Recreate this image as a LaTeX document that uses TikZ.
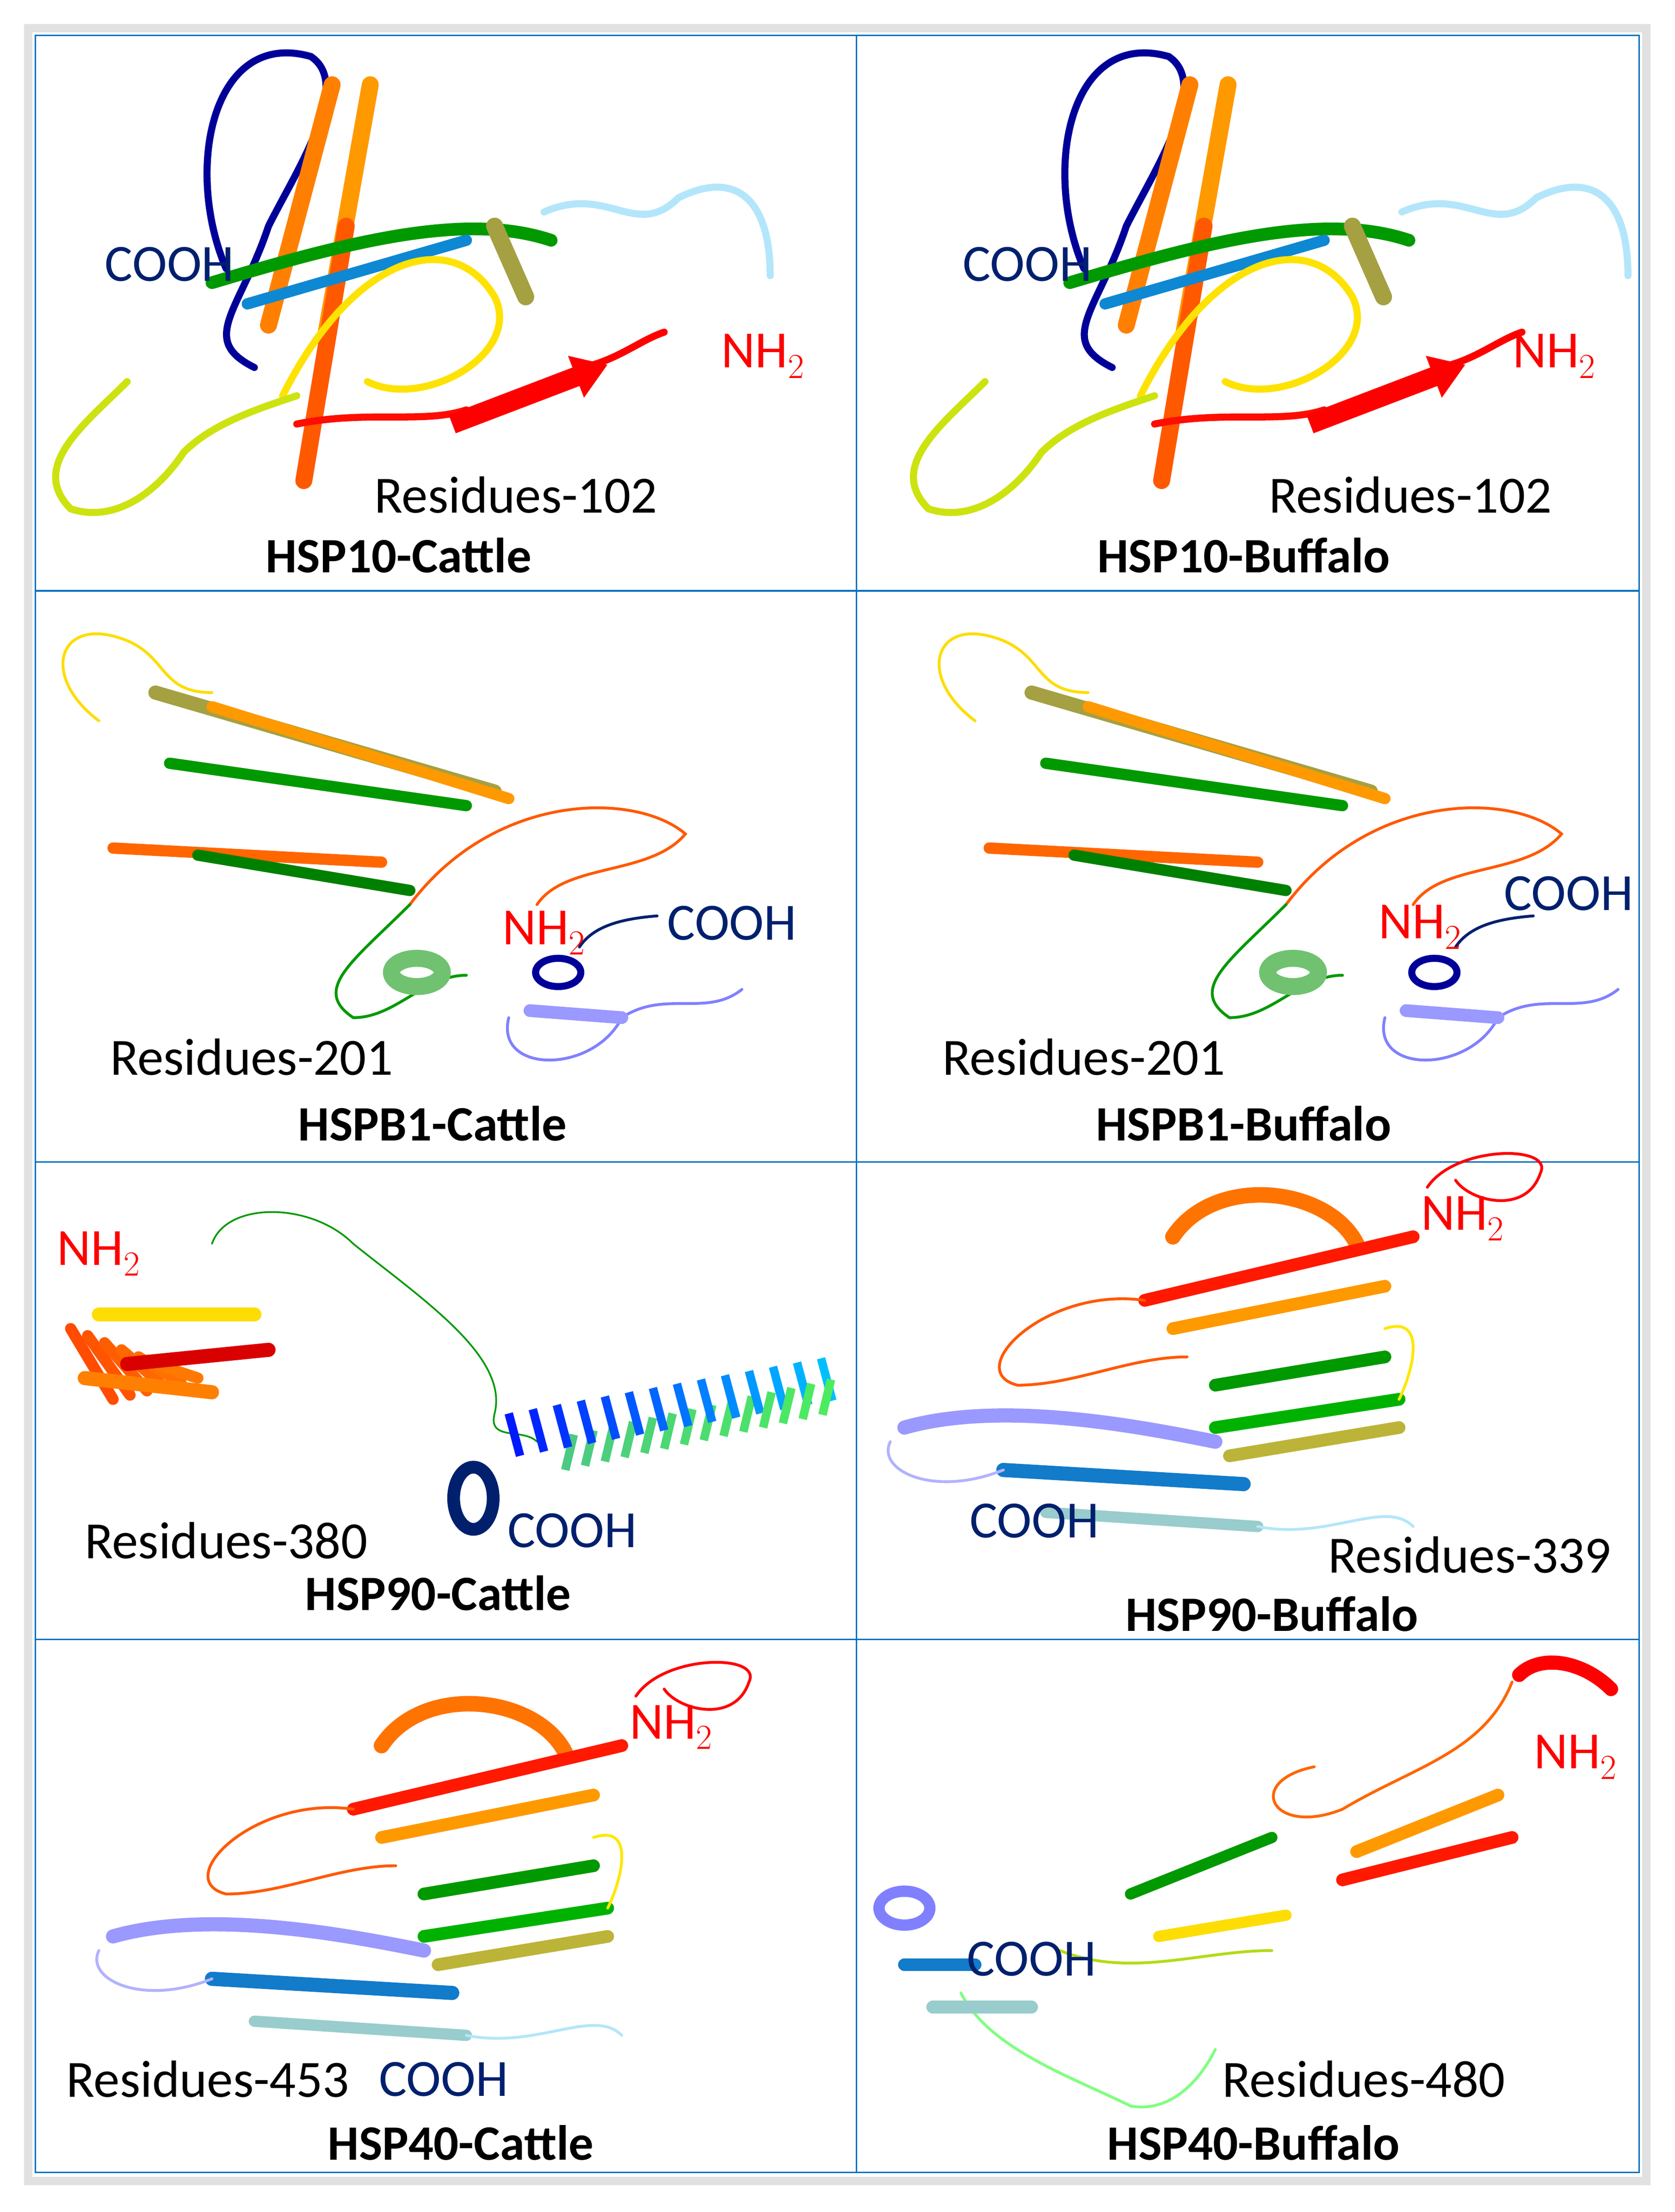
\documentclass[tikz,border=0pt]{standalone}
\usepackage{fontspec}
\setmainfont{Carlito}
\usetikzlibrary{arrows.meta}
\definecolor{navy}{RGB}{0,32,110}
\definecolor{gridb}{RGB}{0,112,192}
\definecolor{borderg}{RGB}{225,225,225}
\begin{document}
\begin{tikzpicture}[x=1pt,y=-1pt,
  lab/.style={font=\fontsize{37}{40}\selectfont, inner sep=0pt},
  ttl/.style={font=\bfseries\fontsize{35}{40}\selectfont, inner sep=0pt},
  rib/.style={line width=5pt, line cap=round},
  thin/.style={line width=2pt, line cap=round},
  grid/.style={draw=gridb, line width=1pt}]
\useasboundingbox (0,0) rectangle (1185,1565);
\draw[draw=borderg, line width=6pt] (20,20) rectangle (1165,1543);
% ---------- HSP10 ribbons ----------
\foreach \dx in {0,607}{
\begin{scope}
\clip (25+\dx,25) rectangle (553+\dx,418);
\begin{scope}[xshift=\dx]
\draw[rib,blue!60!black] (160,190) .. controls (130,120) and (150,20) .. (220,40) .. controls (250,60) and (210,120) .. (190,160) .. controls (170,220) and (140,240) .. (180,260);
\draw[rib,orange, line width=12pt] (190,230) -- (235,60);
\draw[rib,orange!80!yellow, line width=12pt] (230,240) -- (262,60);
\draw[rib,orange!70!red, line width=12pt] (215,340) -- (245,160);
\draw[rib,green!60!black, line width=9pt] (150,200) .. controls (250,170) and (330,150) .. (390,170);
\draw[rib,cyan!70!blue, line width=8pt] (175,215) -- (330,170);
\draw[rib,yellow!85!orange] (200,280) .. controls (250,180) and (320,160) .. (350,210) .. controls (370,250) and (300,290) .. (260,270);
\draw[rib,yellow!60!black, line width=12pt] (350,160) -- (372,210);
\draw[rib,cyan!30] (385,150) .. controls (430,130) and (450,170) .. (480,140) .. controls (520,120) and (545,140) .. (545,195);
\draw[rib,yellow!80!green] (90,270) .. controls (60,300) and (20,330) .. (50,360) .. controls (80,370) and (110,350) .. (130,320) .. controls (150,300) and (180,290) .. (210,280);
\draw[rib,red!90!orange] (210,300) .. controls (260,290) and (300,300) .. (330,290);
\draw[-{Triangle[length=24pt,width=30pt]}, red, line width=14pt] (320,300) -- (430,258);
\draw[rib,red] (420,258) .. controls (440,252) and (455,240) .. (470,235);
\end{scope}
\end{scope}}
\draw[grid] (25,25) rectangle (1160,1537);
\draw[grid] (606,25) -- (606,1537);
\draw[grid] (25,418) -- (1160,418);
\draw[grid] (25,822) -- (1160,822);
\draw[grid] (25,1160) -- (1160,1160);
\node[lab,text=navy] at (120,187) {COOH};
\node[lab,text=red] at (540,252) {NH$_2$};
\node[lab] at (365,350) {Residues-102};
\node[ttl] at (282,393) {HSP10-Cattle};
\node[lab,text=navy] at (727,187) {COOH};
\node[lab,text=red] at (1100,252) {NH$_2$};
\node[lab] at (998,350) {Residues-102};
\node[ttl] at (880,393) {HSP10-Buffalo};
% ---------- HSPB1 ribbons ----------
\foreach \dx in {0,620}{
\begin{scope}[xshift=\dx]
\draw[thin,yellow!80!orange] (70,510) .. controls (30,480) and (40,440) .. (80,450) .. controls (120,460) and (110,490) .. (150,490);
\draw[rib,yellow!60!black, line width=10pt] (110,490) -- (350,560);
\draw[rib,orange!80!yellow, line width=8pt] (150,500) -- (360,565);
\draw[rib,green!60!black, line width=8pt] (120,540) -- (330,570);
\draw[rib,orange!80!red, line width=8pt] (80,600) -- (270,610);
\draw[rib,green!50!black, line width=8pt] (140,605) -- (290,630);
\draw[thin,orange!70!red] (290,640) .. controls (350,560) and (450,560) .. (485,590) .. controls (460,620) and (400,610) .. (380,640);
\draw[thin,green!60!black] (290,640) .. controls (250,680) and (220,700) .. (250,720) .. controls (280,720) and (300,690) .. (330,690);
\draw[rib,green!40!gray!80!white, line width=12pt] (295,688) ellipse (18pt and 10pt);
\draw[rib,blue!60!black] (395,688) ellipse (16pt and 10pt);
\draw[thin,navy] (410,670) .. controls (420,655) and (440,650) .. (465,648);
\draw[thin,blue!50!white] (360,720) .. controls (350,760) and (420,760) .. (440,720) .. controls (470,700) and (500,720) .. (525,700);
\draw[rib,blue!40!white,line width=9pt] (375,715) -- (440,720);
\end{scope}}
\node[lab,text=red] at (385,660) {NH$_2$};
\node[lab,text=navy] at (518,653) {COOH};
\node[lab] at (178,748) {Residues-201};
\node[ttl] at (306,795) {HSPB1-Cattle};
\node[lab,text=red] at (1005,656) {NH$_2$};
\node[lab,text=navy] at (1110,632) {COOH};
\node[lab] at (767,748) {Residues-201};
\node[ttl] at (880,795) {HSPB1-Buffalo};
% ---------- HSP90 cattle ----------
\foreach \i in {0,...,5}{
  \draw[rib,line width=8pt,orange!\the\numexpr 60+7*\i\relax!red] (50+\i*12,940+\i*5) -- (80+\i*12,990-\i*3);}
\draw[rib,yellow!80!orange,line width=10pt] (70,930) -- (180,930);
\draw[rib,red!85!black,line width=10pt] (90,965) -- (190,955);
\draw[rib,orange,line width=10pt] (60,975) -- (150,985);
\draw[thin,green!60!black,line width=1.2pt] (150,880) .. controls (160,850) and (220,850) .. (250,880) .. controls (300,920) and (360,960) .. (350,1000) .. controls (345,1020) and (370,1010) .. (380,1020);
\foreach \i in {0,...,13}{
  \draw[line width=6pt, blue!\the\numexpr 90-5*\i\relax!cyan] (360+\i*17,1000-\i*3) -- (368+\i*17,1030-\i*3);
  \draw[line width=6pt, green!\the\numexpr 40+3*\i\relax!teal!70!white] (400+\i*14,1040-\i*3) -- (406+\i*14,1015-\i*3);}
\draw[rib,navy,line width=9pt] (335,1060) ellipse (14pt and 22pt);
\node[lab,text=red] at (70,887) {NH$_2$};
\node[lab,text=navy] at (405,1083) {COOH};
\node[lab] at (160,1090) {Residues-380};
\node[ttl] at (310,1127) {HSP90-Cattle};
% ---------- HSP40-like fold (cattle) and HSP90 buffalo ----------
\foreach \dx/\dy in {0/0,560/-360}{
\begin{scope}[xshift=\dx,yshift=-\dy]
\draw[thin,red] (450,1200) .. controls (470,1170) and (540,1170) .. (530,1190) .. controls (520,1220) and (480,1210) .. (470,1195);
\draw[rib,orange!90!red,line width=11pt] (270,1235) .. controls (300,1190) and (380,1200) .. (400,1240);
\draw[rib,red!80!orange,line width=9pt] (250,1280) -- (440,1235);
\draw[rib,orange!80!yellow,line width=9pt] (270,1300) -- (420,1270);
\draw[thin,orange!70!red] (250,1280) .. controls (180,1270) and (120,1330) .. (160,1340) .. controls (200,1340) and (240,1320) .. (280,1320);
\draw[rib,green!60!black,line width=9pt] (300,1340) -- (420,1320);
\draw[rib,green!70!black,line width=9pt] (300,1370) -- (430,1350);
\draw[rib,yellow!70!black,line width=9pt] (310,1390) -- (430,1370);
\draw[thin,yellow!90!orange] (420,1300) .. controls (450,1290) and (440,1330) .. (430,1350);
\draw[rib,blue!40!white,line width=10pt] (80,1370) .. controls (150,1350) and (250,1370) .. (300,1380);
\draw[rib,cyan!60!blue,line width=10pt] (150,1400) -- (320,1410);
\draw[rib,teal!40!white,line width=8pt] (180,1430) -- (330,1440);
\draw[thin,cyan!30] (330,1440) .. controls (380,1450) and (420,1420) .. (440,1440);
\draw[thin,blue!30!white] (70,1380) .. controls (60,1400) and (100,1420) .. (150,1400);
\end{scope}}
\node[lab,text=red] at (1035,862) {NH$_2$};
\node[lab,text=navy] at (732,1076) {COOH};
\node[lab] at (1040,1100) {Residues-339};
\node[ttl] at (900,1142) {HSP90-Buffalo};
\node[lab,text=red] at (475,1222) {NH$_2$};
\node[lab] at (147,1471) {Residues-453};
\node[lab,text=navy] at (314,1471) {COOH};
\node[ttl] at (326,1516) {HSP40-Cattle};
% ---------- HSP40 buffalo ----------
\draw[rib,red,line width=10pt] (1075,1185) .. controls (1090,1170) and (1120,1175) .. (1140,1195);
\draw[thin,orange!80!red] (1070,1190) .. controls (1050,1240) and (1000,1250) .. (950,1280) .. controls (900,1300) and (880,1260) .. (930,1250);
\draw[rib,red!80!orange,line width=9pt] (950,1330) -- (1070,1300);
\draw[rib,orange!80!yellow,line width=9pt] (960,1310) -- (1060,1270);
\draw[rib,green!60!black,line width=8pt] (800,1340) -- (900,1300);
\draw[rib,yellow!80!orange,line width=8pt] (820,1370) -- (910,1355);
\draw[thin,yellow!70!green] (750,1380) .. controls (800,1400) and (850,1380) .. (900,1380);
\draw[thin,green!50!white] (680,1410) .. controls (700,1450) and (760,1470) .. (800,1490) .. controls (830,1495) and (850,1470) .. (860,1450);
\draw[rib,blue!50!white,line width=8pt] (640,1350) ellipse (18pt and 12pt);
\draw[rib,cyan!60!blue,line width=9pt] (640,1390) -- (690,1390);
\draw[rib,teal!40!white,line width=9pt] (660,1420) -- (730,1420);
\node[lab,text=red] at (1115,1243) {NH$_2$};
\node[lab,text=navy] at (730,1386) {COOH};
\node[lab] at (965,1471) {Residues-480};
\node[ttl] at (887,1516) {HSP40-Buffalo};
\end{tikzpicture}
\end{document}
